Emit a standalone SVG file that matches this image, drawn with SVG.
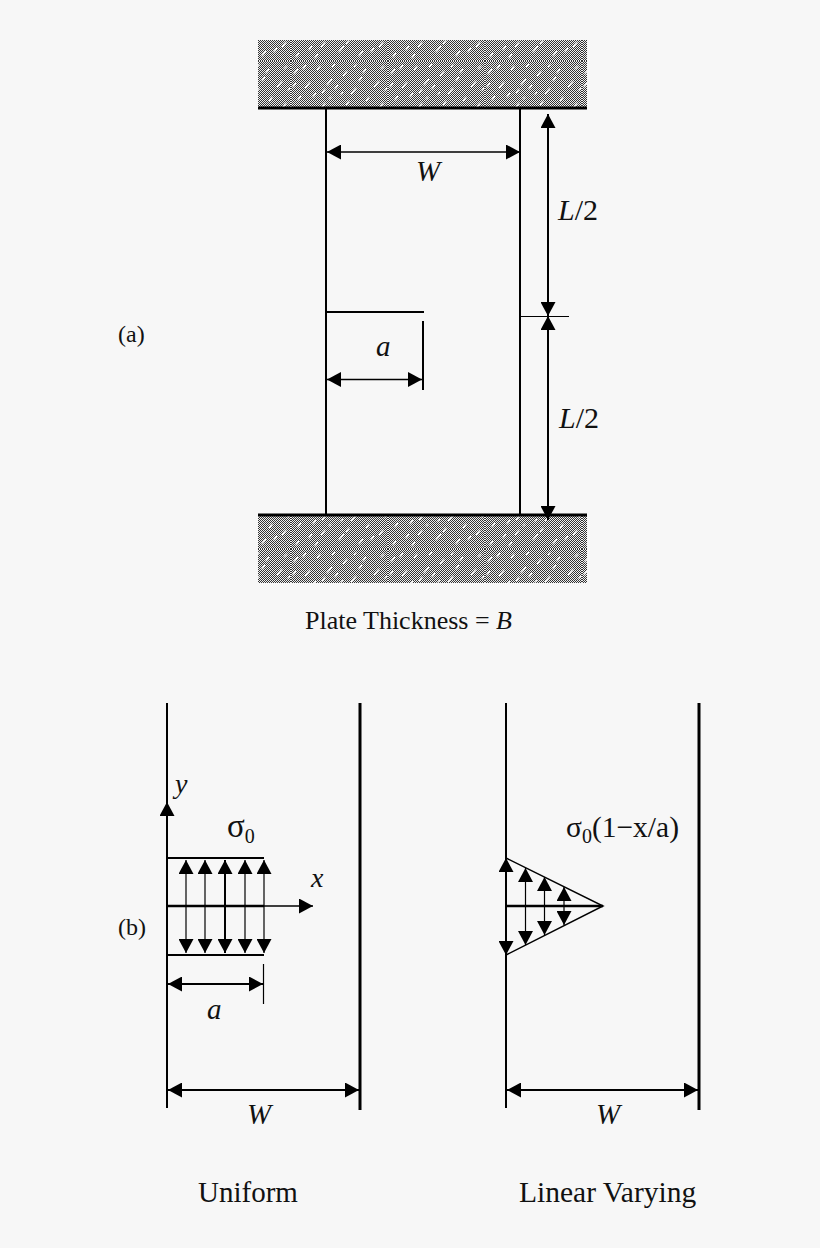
<svg xmlns="http://www.w3.org/2000/svg" width="820" height="1248" viewBox="0 0 820 1248">
<style>
text{font-family:"Liberation Serif","Times New Roman",serif;fill:#111}
.i{font-style:italic}
.l{stroke:#000;stroke-width:2;fill:none}
.t{stroke:#000;stroke-width:1.2;fill:none}
.h{stroke:#000;stroke-width:3;fill:none}
.a{stroke:#000;stroke-width:1.5;fill:none;marker-start:url(#ar);marker-end:url(#ar)}
.s{stroke:#000;stroke-width:1.2;fill:none;marker-start:url(#ar);marker-end:url(#ar)}
.hatch{fill:url(#hp)}
</style>
<defs>
<marker id="ar" viewBox="0 0 14 15" refX="14" refY="7.5" markerUnits="userSpaceOnUse" markerWidth="14" markerHeight="15" orient="auto-start-reverse"><path d="M0 0L14 7.500L0 15Z" fill="#000"/></marker>
<pattern id="ck" width="2" height="2" patternUnits="userSpaceOnUse"><rect width="2" height="2" fill="#f0f0f0"/><rect width="1" height="1" fill="#333"/><rect x="1" y="1" width="1" height="1" fill="#333"/></pattern>
<pattern id="hp" width="97" height="61" patternUnits="userSpaceOnUse">
<rect width="97" height="61" fill="url(#ck)"/>
<path d="M3 13L7 8M14 27L19 21M26 9L29 5M36 24L41 18M7 39L10 35M30 47L34 42M18 50L21 46M41 6L44 3M52 15L56 10M60 33L65 27M72 12L75 8M83 26L88 20M48 52L53 46M68 56L72 51M88 47L92 42M90 8L93 5M5 57L8 53M22 36L25 32M50 34L52 31M75 40L78 36M38 38L40 36M63 6L65 3M12 8L15 4M31 32L34 28M55 44L58 40M80 52L83 48M44 28L47 24M68 20L71 16M94 30L96 27M2 26L5 22M24 58L27 54" stroke="#f4f4f4" stroke-width="1.300" fill="none"/>
</pattern>
</defs>
<rect width="820" height="1248" fill="#f7f7f7"/>
<g id="clamp-top"><rect class="hatch" x="258" y="40" width="329" height="67"/></g>
<g id="clamp-bottom"><rect class="hatch" x="258" y="516" width="329" height="67"/></g>
<g id="plate-a">
<path class="h" d="M258 108H587M258 515H587"/>
<path class="l" d="M326 108V515M520 108V515"/>
<path class="l" d="M326 312H424M423 321V390"/>
</g>
<g id="connectors">
<path class="a" d="M327 152H520"/>
<path class="a" d="M548 114V316" style="stroke-width:2"/>
<path class="a" d="M548 316V520" style="stroke-width:2"/>
<path class="t" d="M521 316.500H569"/>
<path class="a" d="M327 379.500H422"/>
<path class="l" d="M167 703V1108"/>
<path class="h" d="M360 703V1110"/>
<path class="l" d="M167 802V815" marker-start="url(#ar)"/>
<path class="h" d="M167 906H264" style="stroke-width:2.500"/>
<path class="l" d="M264 906H313" marker-end="url(#ar)" style="stroke-width:1.500"/>
<path class="l" d="M167 858H264M167 955H264"/>
<path class="s" d="M186 860V953"/>
<path class="s" d="M205 860V953"/>
<path class="a" d="M225 860V953" style="stroke-width:2"/>
<path class="s" d="M245 860V953"/>
<path class="s" d="M264 860V953"/>
<path class="t" d="M263.500 964V1004"/>
<path class="a" d="M168 984H263" style="stroke-width:2"/>
<path class="a" d="M168 1090H359" style="stroke-width:2"/>
<path class="l" d="M506 703V1108"/>
<path class="h" d="M699 703V1110"/>
<path class="t" d="M506 858L603 906L506 955" style="stroke-width:1.500"/>
<path class="h" d="M506 906H603" style="stroke-width:2.500"/>
<path class="a" d="M506 858V955" style="stroke-width:2"/>
<path class="s" d="M525.500 868V945"/>
<path class="s" d="M544.500 877V935"/>
<path class="s" d="M564 887V925"/>
<path class="a" d="M507 1090H698" style="stroke-width:2"/>
</g>
<g id="labels">
<text class="i" x="416" y="181" font-size="29">W</text>
<text x="558" y="220" font-size="30"><tspan class="i">L</tspan>/2</text>
<text x="559" y="428" font-size="30"><tspan class="i">L</tspan>/2</text>
<text class="i" x="376" y="356" font-size="29">a</text>
<text x="118" y="342" font-size="24">(a)</text>
<text x="305" y="629" font-size="26">Plate Thickness = <tspan class="i">B</tspan></text>
<text x="118" y="935" font-size="24">(b)</text>
<text class="i" x="175" y="793" font-size="28">y</text>
<text class="i" x="311" y="887" font-size="28">x</text>
<text x="227" y="837" font-size="33">σ<tspan font-size="20" dy="6">0</tspan></text>
<text class="i" x="207" y="1019" font-size="29">a</text>
<text class="i" x="247" y="1124" font-size="29">W</text>
<text class="i" x="596" y="1124" font-size="29">W</text>
<text x="566" y="837" font-size="29.500">σ<tspan font-size="20" dy="6">0</tspan><tspan dy="-6">(1−x/a)</tspan></text>
<text x="198" y="1202" font-size="29">Uniform</text>
<text x="519" y="1202" font-size="29.500">Linear Varying</text>
</g>
</svg>
